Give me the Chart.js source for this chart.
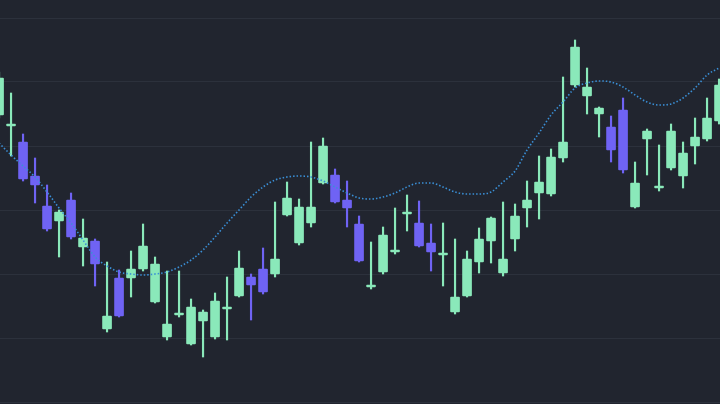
<!DOCTYPE html>
<html><head><meta charset="utf-8">
<script src="https://cdn.jsdelivr.net/npm/chart.js@4"></script>
<style>html,body{margin:0;padding:0;background:#21252f;}#w{width:720px;height:404px;}</style>
</head><body><div id="w"><canvas id="c"></canvas></div>
<script>
const opens  = [289,279,262,228,198,183,204,157,163,75,126,126,135,102,67,90,60,83,67,96,108,127,135,130,189,161,181,221,229,204,180,118,132,153,191,181,161,150,92,108,142,163,131,165,196,211,210,246,319,308,290,277,294,197,265,217,236,228,258,265,283];
const highs  = [332,311,270,246,219,194,211,185,165,142,134,153,180,147,133,133,105,94,111,127,153,130,156,202,222,205,262,266,235,223,188,162,177,196,209,203,180,181,165,153,176,187,202,200,223,248,255,327,364,336,297,288,306,242,275,259,280,262,286,306,325];
const lows   = [286,248,223,201,173,147,165,138,118,72,87,107,133,101,64,87,59,47,65,64,107,84,110,127,188,159,177,220,201,177,142,115,130,150,173,157,133,118,90,107,131,141,128,153,177,185,208,242,317,290,267,242,231,196,229,213,234,216,240,263,280];
const closes = [326,279,225,219,175,192,167,166,140,88,88,135,158,140,80,90,97,92,103,96,136,119,112,145,206,197,197,258,202,196,143,118,169,153,191,158,152,150,107,145,165,186,145,188,204,222,247,262,357,317,296,254,234,221,273,217,273,251,267,286,319];
const average = [261,249,238,227,212,196,181,164,147,138,132,130,129,130,132,137,144,154,167,181,194,207,217,224,227,228,227,223,217,211,206,205,207,211,217,221,221,217,212,210,210,212,222,233,254,271,289,302,316,321,323,322,317,309,302,299,300,306,316,329,336];
const gridLevels = [2,66,130,194,258,322,386];

const GREEN='#8ae9ba', PURPLE='#6f63f4';
const idx = opens.map((_,i)=>i);
const bodies = idx.map(i=>{
  const o=opens[i], c=closes[i];
  return {x:i, y: o===c ? [o-0.8,o+0.8] : [o,c]};
});
const wicks = idx.map(i=>({x:i, y:[lows[i],highs[i]]}));
const colors = idx.map(i=> closes[i]>=opens[i] ? GREEN : PURPLE);
const avgPts = idx.map(i=>({x:i, y:average[i]}));

new Chart(document.getElementById('c'), {
  type:'bar',
  data:{datasets:[
    {type:'line', data:avgPts, borderColor:'#3a8fd6', borderWidth:1.6, borderDash:[1.5,2],
     pointRadius:0, tension:0.4, cubicInterpolationMode:'monotone', order:-1},
    {data:bodies, backgroundColor:colors, barThickness:9, borderRadius:1, borderSkipped:false, grouped:false, order:0},
    {data:wicks, backgroundColor:colors, barThickness:1.5, grouped:false, order:1}
  ]},
  options:{
    responsive:true, maintainAspectRatio:false, animation:false,
    layout:{padding:0},
    plugins:{legend:{display:false}, tooltip:{enabled:false}},
    scales:{
      x:{type:'linear', min:0.08, max:60.08, offset:false, display:false},
      y:{min:0, max:404,
         afterBuildTicks:(ax)=>{ax.ticks=gridLevels.map(v=>({value:v}));},
         grid:{color:'#2c313c', lineWidth:1, drawTicks:false},
         ticks:{display:false}, border:{display:false}}
    }
  }
});
</script></body></html>
